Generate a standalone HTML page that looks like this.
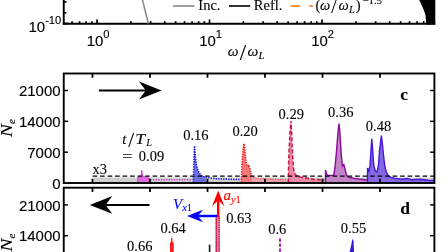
<!DOCTYPE html>
<html><head><meta charset="utf-8"><title>plot</title>
<style>
html,body{margin:0;padding:0;background:#fff;}
body{width:448px;height:252px;overflow:hidden;}
svg{display:block;}
text.s{stroke:#000;stroke-width:0.1px;}
text.n{stroke:#000;stroke-width:0.12px;}
</style></head><body>
<svg width="448" height="252" viewBox="0 0 448 252">
<rect width="448" height="252" fill="#fff"/>
<g stroke="#000" stroke-width="1.9" fill="none">
<line x1="63.75" y1="-2" x2="63.75" y2="24.65"/>
<line x1="62.8" y1="23.7" x2="435.349" y2="23.7"/>
</g>
<g stroke="#000" stroke-width="1.7">
<line x1="72.04" y1="23.7" x2="72.04" y2="21.15"/>
<line x1="79.57" y1="23.7" x2="79.57" y2="21.15"/>
<line x1="86.10" y1="23.7" x2="86.10" y2="21.15"/>
<line x1="91.85" y1="23.7" x2="91.85" y2="21.15"/>
<line x1="97.00" y1="23.7" x2="97.00" y2="19.45"/>
<line x1="130.87" y1="23.7" x2="130.87" y2="21.15"/>
<line x1="150.68" y1="23.7" x2="150.68" y2="21.15"/>
<line x1="164.73" y1="23.7" x2="164.73" y2="21.15"/>
<line x1="175.63" y1="23.7" x2="175.63" y2="21.15"/>
<line x1="184.54" y1="23.7" x2="184.54" y2="21.15"/>
<line x1="192.07" y1="23.7" x2="192.07" y2="21.15"/>
<line x1="198.60" y1="23.7" x2="198.60" y2="21.15"/>
<line x1="204.35" y1="23.7" x2="204.35" y2="21.15"/>
<line x1="209.50" y1="23.7" x2="209.50" y2="19.45"/>
<line x1="243.37" y1="23.7" x2="243.37" y2="21.15"/>
<line x1="263.18" y1="23.7" x2="263.18" y2="21.15"/>
<line x1="277.23" y1="23.7" x2="277.23" y2="21.15"/>
<line x1="288.13" y1="23.7" x2="288.13" y2="21.15"/>
<line x1="297.04" y1="23.7" x2="297.04" y2="21.15"/>
<line x1="304.57" y1="23.7" x2="304.57" y2="21.15"/>
<line x1="311.10" y1="23.7" x2="311.10" y2="21.15"/>
<line x1="316.85" y1="23.7" x2="316.85" y2="21.15"/>
<line x1="322.00" y1="23.7" x2="322.00" y2="19.45"/>
<line x1="355.87" y1="23.7" x2="355.87" y2="21.15"/>
<line x1="375.68" y1="23.7" x2="375.68" y2="21.15"/>
<line x1="389.73" y1="23.7" x2="389.73" y2="21.15"/>
<line x1="400.63" y1="23.7" x2="400.63" y2="21.15"/>
<line x1="409.54" y1="23.7" x2="409.54" y2="21.15"/>
<line x1="417.07" y1="23.7" x2="417.07" y2="21.15"/>
<line x1="423.60" y1="23.7" x2="423.60" y2="21.15"/>
<line x1="429.35" y1="23.7" x2="429.35" y2="21.15"/>
<line x1="63.75" y1="1.9" x2="66.4" y2="1.9"/>
<line x1="63.75" y1="12.8" x2="66.4" y2="12.8"/>
<line x1="63.75" y1="23.5" x2="68.7" y2="23.5"/>
</g>
<line x1="142.4" y1="-0.5" x2="148.3" y2="23.5" stroke="#8a8a8a" stroke-width="1.6"/>
<path d="M418.7,-1 L421.6,5 L424,10.5 L425.4,15 L426,20 L426.2,24.6 L435.3,24.6 L435.3,-1 Z" fill="#000"/>
<line x1="173" y1="6" x2="194.5" y2="6" stroke="#8a8a8a" stroke-width="1.6"/>
<line x1="229" y1="6" x2="250.3" y2="6" stroke="#000" stroke-width="1.6"/>
<line x1="290.3" y1="6" x2="300.3" y2="6" stroke="#ff7f0e" stroke-width="1.6"/>
<line x1="309" y1="6" x2="312.8" y2="6" stroke="#ff7f0e" stroke-width="1.6"/>
<text x="198.3" y="10" font-family="'Liberation Serif',serif" class="s" font-size="14.5">Inc.</text>
<text x="253.8" y="10" font-family="'Liberation Serif',serif" class="s" font-size="14.5">Refl.</text>
<text x="315.6" y="10.3" font-family="'Liberation Serif',serif" class="s" font-size="14.5">(</text>
<text x="320" y="10.3" font-family="'Liberation Serif',serif" class="s" font-size="14.5" font-style="italic">ω</text>
<text x="331.2" y="12.6" font-family="'Liberation Serif',serif" class="s" font-size="19">/</text>
<text x="338.6" y="10.3" font-family="'Liberation Serif',serif" class="s" font-size="14.5" font-style="italic">ω</text>
<text x="348.9" y="12.8" font-family="'Liberation Serif',serif" class="s" font-size="10.4" font-style="italic">L</text>
<text x="355.8" y="10.3" font-family="'Liberation Serif',serif" class="s" font-size="14.5">)</text>
<text x="362.4" y="3.6" font-family="'Liberation Serif',serif" class="s" font-size="10.8">−1.5</text>
<text x="28.44" y="31.8" font-family="'Liberation Sans',sans-serif" class="n" font-size="15">10<tspan font-size="11.2" dy="-7.6">-10</tspan></text>
<text x="86.66" y="45.8" font-family="'Liberation Sans',sans-serif" class="n" font-size="15">10<tspan font-size="11.2" dy="-7.6">0</tspan></text>
<text x="199.16" y="45.8" font-family="'Liberation Sans',sans-serif" class="n" font-size="15">10<tspan font-size="11.2" dy="-7.6">1</tspan></text>
<text x="311.16" y="45.8" font-family="'Liberation Sans',sans-serif" class="n" font-size="15">10<tspan font-size="11.2" dy="-7.6">2</tspan></text>
<text x="227.8" y="56.3" font-family="'Liberation Serif',serif" class="s" font-size="15.3" font-style="italic">ω</text>
<text x="239.7" y="59.8" font-family="'Liberation Serif',serif" class="s" font-size="23">/</text>
<text x="247.6" y="56.3" font-family="'Liberation Serif',serif" class="s" font-size="15.3" font-style="italic">ω</text>
<text x="258.6" y="59.1" font-family="'Liberation Serif',serif" class="s" font-size="10.6" font-style="italic">L</text>
<g id="cdata">
<rect x="93.4" y="177.5" width="341.0" height="4.6" fill="#cfcfcf"/>
<path d="M137.6,182.5 L137.6,177.2 L140.5,176.8 L141.3,174 L141.8,170.2 L142.3,174 L143.2,176.5 L146,177 L148.6,177.6 L148.6,182.5 Z" fill="#dc6fdc" stroke="#d433d4" stroke-width="0.8"/>
<path d="M150.5,179.8 L192,179.8" stroke="#d433d4" stroke-width="1.4" stroke-dasharray="1.2 1.4" fill="none"/>
<path d="M193.2,182.5 L193.4,176 L193.8,165 L194.2,152 L194.6,145.8 L195,151 L195.5,158 L196.2,163 L197,167 L198,170.4 L199.2,173 L201.4,175.4 L205.4,177.2 L206.8,182.5 Z" fill="#6e6ee4"/>
<path d="M193.2,182.5 L193.4,176 L193.8,165 L194.2,152 L194.6,145.8 L195,151 L195.5,158 L196.2,163 L197,167 L198,170.4 L199.2,173 L201.4,175.4 L205.4,177.2 L215,178.6 L240,179.6" fill="none" stroke="#1414f0" stroke-width="1.5" stroke-dasharray="1.3 1.2"/>
<path d="M241.4,182.5 L241.6,172 L242.3,158 L243.1,148 L244,143.6 L244.9,150 L245.6,158 L246.3,164 L247.4,166.2 L248.8,164.8 L249.8,168 L250.8,173 L251.8,177 L258,178.8 L258,182.5 Z" fill="#f47a7a"/>
<path d="M241.4,182.5 L241.6,172 L242.3,158 L243.1,148 L244,143.6 L244.9,150 L245.6,158 L246.3,164 L247.4,166.2 L248.8,164.8 L249.8,168 L250.8,173 L251.8,177 L258,178.8 L286,180" fill="none" stroke="#f51414" stroke-width="1.5" stroke-dasharray="1.3 1.2"/>
<path d="M251.8,182.5 L251.8,177 L258,178.6 L270,179.4 L288,180 L288,182.5 Z" fill="#e9a0a8"/>
<path d="M288.4,182.5 L288.5,168 L289.1,150 L290,132 L291,121 L291.6,132 L292.2,148 L292.9,161 L293.8,170 L295.2,174.6 L298.6,176.8 L306,178 L314,179.4 L322,180 L322,182.5 Z" fill="#e88aa6"/>
<path d="M288.4,182.5 L288.5,168 L289.1,150 L290,132 L291,121 L291.6,132 L292.2,148 L292.9,161 L293.8,170 L295.2,174.6 L298.6,176.8 L306,178 L314,179.4 L324,180" fill="none" stroke="#cc1446" stroke-width="1.5" stroke-dasharray="4 2"/>
<path d="M325.5,182.5 L325.5,170 L326.5,174 L328,175.4 L333.6,175.4 L335,168 L336.6,150 L338,132 L339,123.6 L340,134 L341.2,154 L342.4,166 L343.8,164.6 L345,169 L346.4,175 L348,177 L355,178.6 L367,180 L367,182.5 Z" fill="#c285c8"/>
<path d="M325.5,182.5 L325.5,170 L326.5,174 L328,175.4 L333.6,175.4 L335,168 L336.6,150 L338,132 L339,123.6 L340,134 L341.2,154 L342.4,166 L343.8,164.6 L345,169 L346.4,175 L348,177 L355,178.6 L367,180" fill="none" stroke="#8a0a96" stroke-width="1.4"/>
<path d="M367.5,182.5 L367.5,168 L368.6,172 L370,166 L371,150 L371.8,138.8 L372.8,152 L373.8,166 L375.4,171 L377,172 L378.4,166 L379.6,150 L381.4,135.5 L382.6,146 L383.6,156 L384.8,166 L386.2,172 L388,175.2 L390.5,177.2 L395,178.4 L402,179.2 L407,178.4 L412,179.8 L420,179.2 L428,180.2 L434,180.4 L434,182.5 Z" fill="#8468e2"/>
<path d="M367.5,182.5 L367.5,168 L368.6,172 L370,166 L371,150 L371.8,138.8 L372.8,152 L373.8,166 L375.4,171 L377,172 L378.4,166 L379.6,150 L381.4,135.5 L382.6,146 L383.6,156 L384.8,166 L386.2,172 L388,175.2 L390.5,177.2 L395,178.4 L402,179.2 L407,178.4 L412,179.8 L420,179.2 L428,180.2 L434,180.4" fill="none" stroke="#4614dc" stroke-width="1.4"/>
</g>
<line x1="92.6" y1="176.2" x2="434.4" y2="176.2" stroke="#000" stroke-width="1.3" stroke-dasharray="4.6 2.9"/>
<rect x="63.75" y="73.5" width="370.65" height="109.5" fill="none" stroke="#000" stroke-width="1.9"/>
<g stroke="#000" stroke-width="1.8">
<line x1="92.5" y1="73.5" x2="92.5" y2="77.75"/>
<line x1="92.5" y1="183.0" x2="92.5" y2="178.75"/>
<line x1="150.0" y1="73.5" x2="150.0" y2="77.75"/>
<line x1="150.0" y1="183.0" x2="150.0" y2="178.75"/>
<line x1="207.5" y1="73.5" x2="207.5" y2="77.75"/>
<line x1="207.5" y1="183.0" x2="207.5" y2="178.75"/>
<line x1="265.0" y1="73.5" x2="265.0" y2="77.75"/>
<line x1="265.0" y1="183.0" x2="265.0" y2="178.75"/>
<line x1="322.5" y1="73.5" x2="322.5" y2="77.75"/>
<line x1="322.5" y1="183.0" x2="322.5" y2="178.75"/>
<line x1="380.0" y1="73.5" x2="380.0" y2="77.75"/>
<line x1="380.0" y1="183.0" x2="380.0" y2="178.75"/>
</g>
<g stroke="#000" stroke-width="1.5">
<line x1="63.75" y1="90.50" x2="68.0" y2="90.50"/>
<line x1="434.4" y1="90.50" x2="430.15" y2="90.50"/>
<line x1="63.75" y1="121.33" x2="68.0" y2="121.33"/>
<line x1="434.4" y1="121.33" x2="430.15" y2="121.33"/>
<line x1="63.75" y1="152.17" x2="68.0" y2="152.17"/>
<line x1="434.4" y1="152.17" x2="430.15" y2="152.17"/>
</g>
<text x="60.6" y="96.20" font-family="'Liberation Sans',sans-serif" class="n" font-size="15" text-anchor="end">21000</text>
<text x="60.6" y="127.10" font-family="'Liberation Sans',sans-serif" class="n" font-size="15" text-anchor="end">14000</text>
<text x="60.6" y="157.70" font-family="'Liberation Sans',sans-serif" class="n" font-size="15" text-anchor="end">7000</text>
<text x="60.6" y="189.10" font-family="'Liberation Sans',sans-serif" class="n" font-size="15" text-anchor="end">0</text>
<text transform="translate(12.4,136.9) rotate(-90)" font-family="'Liberation Serif',serif" class="s" font-size="16.2" font-style="italic" textLength="13" lengthAdjust="spacingAndGlyphs">N</text>
<text transform="translate(15.4,123.9) rotate(-90)" font-family="'Liberation Serif',serif" class="s" font-size="11.4" font-style="italic">e</text>
<line x1="98.80" y1="90.50" x2="145.80" y2="90.50" stroke="#000" stroke-width="2"/>
<path d="M161.50,90.50 L139.00,99.40 L145.80,90.50 L139.00,81.60 Z" fill="#000"/>
<text x="92.6" y="174.2" font-family="'Liberation Serif',serif" class="s" font-size="14.5" fill="#000" style="stroke:#000" >x3</text>
<text x="122.2" y="143.9" font-family="'Liberation Serif',serif" class="s" font-size="14.5" fill="#000" style="stroke:#000" font-style="italic">t</text>
<text x="128.3" y="146.8" font-family="'Liberation Serif',serif" class="s" font-size="21" fill="#000" style="stroke:#000" >/</text>
<text x="135.2" y="143.9" font-family="'Liberation Serif',serif" class="s" font-size="14.5" fill="#000" style="stroke:#000" font-style="italic" textLength="9.8" lengthAdjust="spacingAndGlyphs">T</text>
<text x="146.3" y="146.2" font-family="'Liberation Serif',serif" class="s" font-size="10.2" fill="#000" style="stroke:#000" font-style="italic">L</text>
<text x="122.3" y="160.6" font-family="'Liberation Serif',serif" class="s" font-size="14.5" fill="#000" style="stroke:#000" textLength="10.2" lengthAdjust="spacingAndGlyphs">=</text>
<text x="138.8" y="160.6" font-family="'Liberation Serif',serif" class="s" font-size="14.5" fill="#000" style="stroke:#000" >0.09</text>
<text x="183.2" y="139.9" font-family="'Liberation Serif',serif" class="s" font-size="14.5" fill="#000" style="stroke:#000" >0.16</text>
<text x="232.4" y="136.2" font-family="'Liberation Serif',serif" class="s" font-size="14.5" fill="#000" style="stroke:#000" >0.20</text>
<text x="278.6" y="118.6" font-family="'Liberation Serif',serif" class="s" font-size="14.5" fill="#000" style="stroke:#000" >0.29</text>
<text x="328" y="117.1" font-family="'Liberation Serif',serif" class="s" font-size="14.5" fill="#000" style="stroke:#000" >0.36</text>
<text x="365.8" y="130.6" font-family="'Liberation Serif',serif" class="s" font-size="14.5" fill="#000" style="stroke:#000" >0.48</text>
<text x="400.3" y="99.6" font-family="'Liberation Serif',serif" class="s" font-size="17.5" font-weight="bold">c</text>
<g id="ddata">
<path d="M170,253 L170,242.6 L171,242.2 L171.1,238 L171.7,237.2 L172.4,238 L172.5,242.2 L173.7,242.6 L173.7,253 Z" fill="#ff1a1a"/>
<line x1="209.6" y1="244.6" x2="209.6" y2="253" stroke="#222" stroke-width="1.7"/>
<line x1="216.3" y1="218" x2="216.3" y2="254" stroke="#c8184a" stroke-width="1.9" stroke-linecap="round" stroke-dasharray="0.01 1.75"/>
<line x1="219" y1="217.05" x2="219" y2="254" stroke="#c8184a" stroke-width="1.9" stroke-linecap="round" stroke-dasharray="0.01 1.75"/>
<line x1="217.65" y1="218" x2="217.65" y2="254" stroke="#e58aa6" stroke-width="1.2"/>
<line x1="280" y1="238.4" x2="280" y2="253" stroke="#960aa0" stroke-width="1.8" stroke-dasharray="3.4 1.6"/>
<path d="M349.6,252 L351,246 L352,241 L352.9,238.4 L353.6,241 L354,252 Z" fill="#3a14dc"/>
</g>
<rect x="63.75" y="187.7" width="370.65" height="112.300" fill="none" stroke="#000" stroke-width="1.9"/>
<g stroke="#000" stroke-width="1.8">
<line x1="92.5" y1="187.7" x2="92.5" y2="191.95"/>
<line x1="150.0" y1="187.7" x2="150.0" y2="191.95"/>
<line x1="207.5" y1="187.7" x2="207.5" y2="191.95"/>
<line x1="265.0" y1="187.7" x2="265.0" y2="191.95"/>
<line x1="322.5" y1="187.7" x2="322.5" y2="191.95"/>
<line x1="380.0" y1="187.7" x2="380.0" y2="191.95"/>
</g>
<g stroke="#000" stroke-width="1.5">
<line x1="63.75" y1="204.90" x2="68.0" y2="204.90"/>
<line x1="434.4" y1="204.90" x2="430.15" y2="204.90"/>
<line x1="63.75" y1="235.70" x2="68.0" y2="235.70"/>
<line x1="434.4" y1="235.70" x2="430.15" y2="235.70"/>
</g>
<text x="60.6" y="210.70" font-family="'Liberation Sans',sans-serif" class="n" font-size="15" text-anchor="end">21000</text>
<text x="60.6" y="241.30" font-family="'Liberation Sans',sans-serif" class="n" font-size="15" text-anchor="end">14000</text>
<text transform="translate(12.4,251.4) rotate(-90)" font-family="'Liberation Serif',serif" class="s" font-size="16.2" font-style="italic" textLength="13" lengthAdjust="spacingAndGlyphs">N</text>
<text transform="translate(15.4,238.4) rotate(-90)" font-family="'Liberation Serif',serif" class="s" font-size="11.4" font-style="italic">e</text>
<line x1="149.50" y1="204.90" x2="105.50" y2="204.90" stroke="#000" stroke-width="2"/>
<path d="M89.80,204.90 L112.30,196.00 L105.50,204.90 L112.30,213.80 Z" fill="#000"/>
<line x1="218.20" y1="216.00" x2="198.00" y2="216.00" stroke="#0000ff" stroke-width="2.4"/>
<path d="M187.00,216.00 L203.00,209.80 L198.00,216.00 L203.00,222.20 Z" fill="#0000ff"/>
<line x1="218.20" y1="217.20" x2="218.20" y2="200.20" stroke="#ff0000" stroke-width="2.4"/>
<path d="M218.20,190.40 L224.40,206.20 L218.20,200.20 L212.00,206.20 Z" fill="#ff0000"/>
<text x="173" y="209" font-family="'Liberation Serif',serif" class="s" font-size="15" fill="#0000ff" style="stroke:#0000ff" ><tspan font-style="italic">V</tspan><tspan font-style="italic" font-size="10.5" dy="2.4">x</tspan><tspan font-size="10.5">1</tspan></text>
<text x="223.4" y="200.2" font-family="'Liberation Serif',serif" class="s" font-size="15" fill="#ff0000" style="stroke:#ff0000" ><tspan font-style="italic">a</tspan><tspan font-style="italic" font-size="10.5" dy="2.6">y</tspan><tspan font-size="10.5">1</tspan></text>
<text x="226.2" y="223.2" font-family="'Liberation Serif',serif" class="s" font-size="14.5" fill="#000" style="stroke:#000" >0.63</text>
<text x="160.4" y="233.2" font-family="'Liberation Serif',serif" class="s" font-size="14.5" fill="#000" style="stroke:#000" >0.64</text>
<text x="127" y="251.2" font-family="'Liberation Serif',serif" class="s" font-size="14.5" fill="#000" style="stroke:#000" >0.66</text>
<text x="268.2" y="234.4" font-family="'Liberation Serif',serif" class="s" font-size="14.5" fill="#000" style="stroke:#000" >0.6</text>
<text x="340.8" y="232.6" font-family="'Liberation Serif',serif" class="s" font-size="14.5" fill="#000" style="stroke:#000" >0.55</text>
<text x="400.3" y="213.8" font-family="'Liberation Serif',serif" class="s" font-size="17.5" font-weight="bold">d</text>
</svg>
</body></html>
